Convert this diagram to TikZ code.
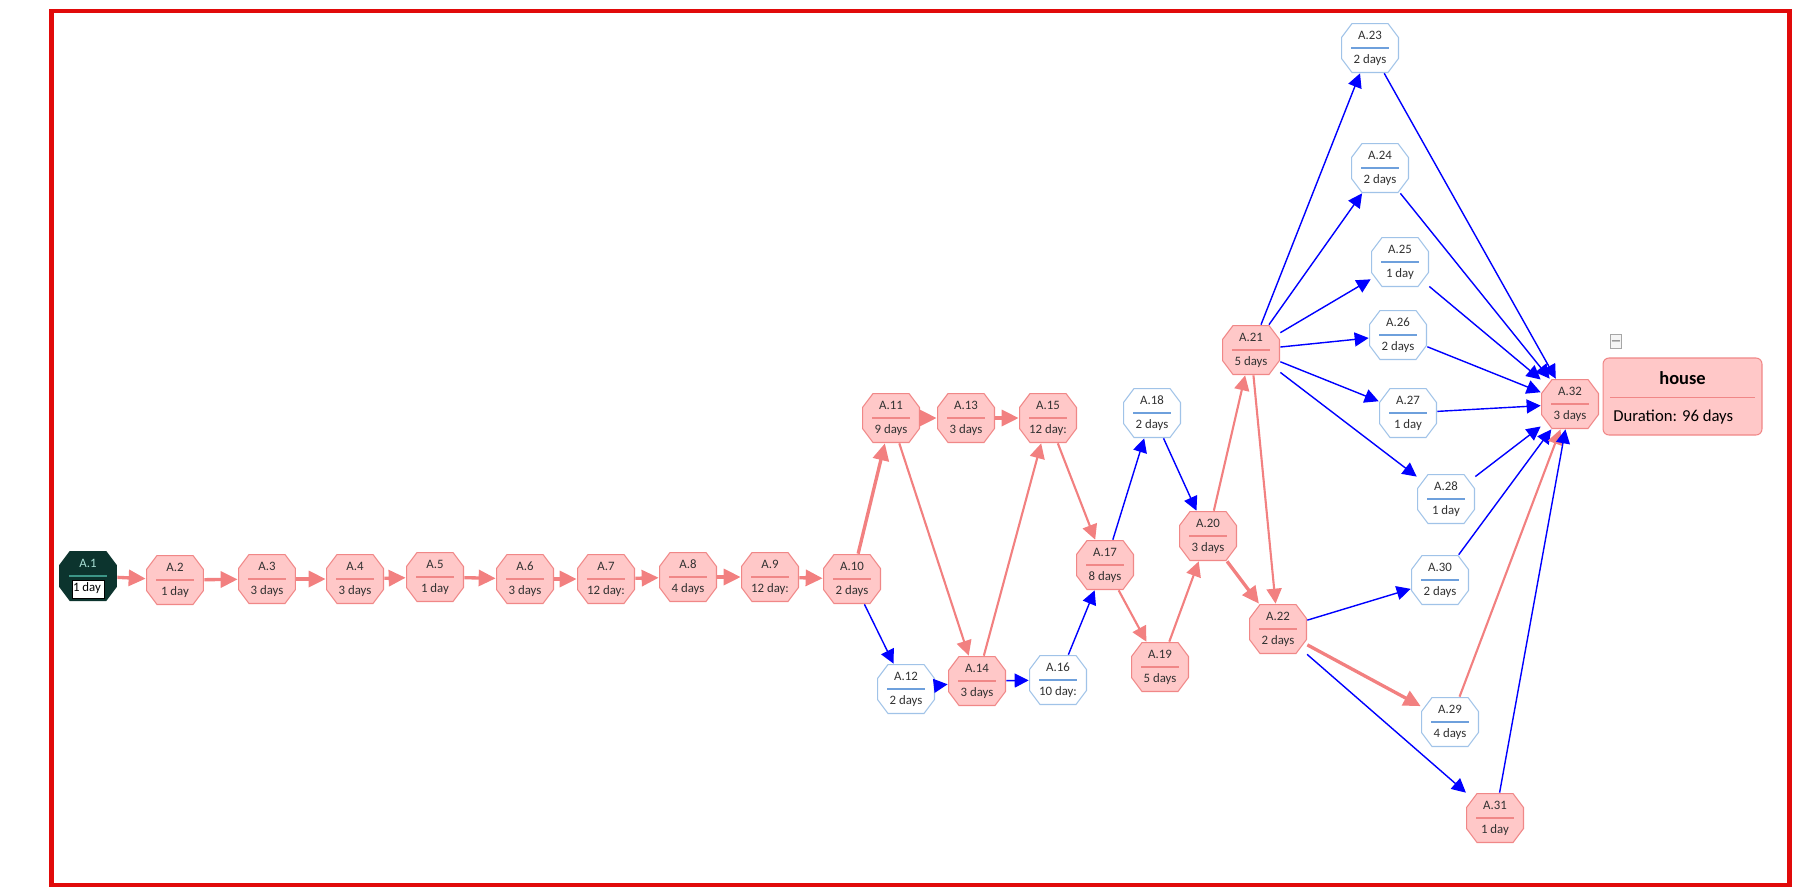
\documentclass[tikz,border=0pt]{standalone}
\usepackage{fontspec}
\setmainfont{Carlito}
\usetikzlibrary{arrows.meta}

\definecolor{critfill}{RGB}{255,200,200}
\definecolor{critline}{RGB}{240,135,135}
\definecolor{critedge}{RGB}{242,128,128}
\definecolor{freeline}{RGB}{160,195,232}
\definecolor{freesep}{RGB}{110,160,220}
\definecolor{startfill}{RGB}{12,52,46}
\definecolor{starttext}{RGB}{170,225,215}
\definecolor{startsep}{RGB}{60,150,135}
\definecolor{frame}{RGB}{225,10,10}
\definecolor{tasktext}{RGB}{50,50,50}

% octagon of a task, drawn inside the node's box
\newcommand{\taskoct}[3]{%
  \path (path picture bounding box.center) coordinate (oc);
  \filldraw[fill=#1, draw=#2, line width=0.6pt]
    ([shift={(-0.36cm,0.49cm)}]oc) -- ([shift={(0.36cm,0.49cm)}]oc) --
    ([shift={(0.57cm,0.21cm)}]oc) -- ([shift={(0.57cm,-0.21cm)}]oc) --
    ([shift={(0.36cm,-0.49cm)}]oc) -- ([shift={(-0.36cm,-0.49cm)}]oc) --
    ([shift={(-0.57cm,-0.21cm)}]oc) -- ([shift={(-0.57cm,0.21cm)}]oc) -- cycle;
  \draw[#3, line width=0.8pt] ([xshift=-0.38cm]oc) -- ([xshift=0.38cm]oc);}

\tikzset{
  task/.style={rectangle, inner sep=0pt, minimum width=1.16cm,
    minimum height=1cm, align=center, text=tasktext,
    font=\fontsize{7.3}{13.6}\selectfont},
  crit/.style={task, path picture={\taskoct{critfill}{critline}{critline}}},
  free/.style={task, path picture={\taskoct{white}{freeline}{freesep}}},
  critlink/.style={-{Triangle[length=0.3cm,width=0.3cm]}, draw=critedge, fill=critedge, line width=1.2pt},
  critmain/.style={critlink, -{Triangle[length=0.34cm,width=0.32cm]}, line width=1.9pt},
  freelink/.style={-{Triangle[length=0.28cm,width=0.28cm]}, draw=blue, fill=blue, line width=0.8pt}
}

\begin{document}
\begin{tikzpicture}[x=0.02cm, y=-0.02cm]
        \useasboundingbox (0,0) rectangle (1811,890);
        \draw[frame, line width=2.4pt] (51.5,11) rectangle (1789.5,885);

        % --- 1. Start task ---
        \node[task, path picture={
            \taskoct{startfill}{startfill}{startsep}
            \draw[black, fill=white, line width=0.5pt]
              ([xshift=-0.32cm, yshift=-0.08cm]oc) rectangle
              ([xshift=0.32cm, yshift=-0.44cm]oc);}]
          (a1) at (88,576) {\textcolor{starttext}{A.1}\\\makebox[0.6cm][l]{\textcolor{black}{1 day}}};

        % --- 2. Chain of critical tasks ---
        \node[crit] (a2) at (175,580) {A.2\\1 day};
        \node[crit] (a3) at (267,579) {A.3\\3 days};
        \node[crit] (a4) at (355,579) {A.4\\3 days};
        \node[crit] (a5) at (435,577) {A.5\\1 day};
        \node[crit] (a6) at (525,579) {A.6\\3 days};
        \node[crit] (a7) at (606,579) {A.7\\12 day:};
        \node[crit] (a8) at (688,577) {A.8\\4 days};
        \node[crit] (a9) at (770,577) {A.9\\12 day:};
        \node[crit] (a10) at (852,579) {A.10\\2 days};

        \foreach \i [evaluate=\i as \j using int(\i+1)] in {1,...,9}
            \draw[critmain] (a\i) -- (a\j);

        % --- 3. Middle section ---
        \node[crit] (a11) at (891,418) {A.11\\9 days};
        \node[crit] (a13) at (966,418) {A.13\\3 days};
        \node[crit] (a15) at (1048,418) {A.15\\12 day:};
        \node[free] (a12) at (906,689) {A.12\\2 days};
        \node[crit] (a14) at (977,681) {A.14\\3 days};
        \node[free] (a16) at (1058,680) {A.16\\10 day:};
        \node[crit] (a17) at (1105,565) {A.17\\8 days};
        \node[free] (a18) at (1152,413) {A.18\\2 days};
        \node[crit] (a19) at (1160,667) {A.19\\5 days};
        \node[crit] (a20) at (1208,536) {A.20\\3 days};
        \node[crit] (a21) at (1251,350) {A.21\\5 days};
        \node[crit] (a22) at (1278,629) {A.22\\2 days};

        \draw[critmain] (a10) -- (a11);
        \draw[freelink] (a10) -- (a12);
        \draw[critmain] (a11) -- (a13);
        \draw[critmain] (a13) -- (a15);
        \draw[critlink] (a11) -- (a14);
        \draw[freelink] (a12) -- (a14);
        \draw[critlink] (a14) -- (a15);
        \draw[freelink] (a14) -- (a16);
        \draw[critlink] (a15) -- (a17);
        \draw[freelink] (a16) -- (a17);
        \draw[freelink] (a17) -- (a18);
        \draw[critlink] (a17) -- (a19);
        \draw[freelink] (a18) -- (a20);
        \draw[critlink] (a19) -- (a20);
        \draw[critlink] (a20) -- (a21);
        \draw[critmain] (a20) -- (a22);
        \draw[critlink] (a21) -- (a22);

        % --- 4. Fan out to the last task ---
        \node[free] (a23) at (1370,48) {A.23\\2 days};
        \node[free] (a24) at (1380,168) {A.24\\2 days};
        \node[free] (a25) at (1400,262) {A.25\\1 day};
        \node[free] (a26) at (1398,335) {A.26\\2 days};
        \node[free] (a27) at (1408,413) {A.27\\1 day};
        \node[free] (a28) at (1446,499) {A.28\\1 day};
        \node[free] (a30) at (1440,580) {A.30\\2 days};
        \node[free] (a29) at (1450,722) {A.29\\4 days};
        \node[crit] (a31) at (1495,818) {A.31\\1 day};
        \node[crit] (a32) at (1570,404) {A.32\\3 days};

        \foreach \k in {23,...,28} {
            \draw[freelink] (a21) -- (a\k);
            \draw[freelink] (a\k) -- (a32);
        }
        \draw[freelink] (a22) -- (a30);
        \draw[freelink] (a30) -- (a32);
        \draw[critmain] (a22) -- (a29);
        \draw[critlink] (a29) -- (a32);
        \draw[freelink] (a22) -- (a31);
        \draw[freelink] (a31) -- (a32);

        % --- 5. Summary box ---
        \node[draw=critline, fill=critfill, rounded corners=0.12cm, line width=0.6pt,
          minimum width=3.18cm, minimum height=1.54cm, inner sep=0pt,
          path picture={\draw[critline, line width=0.8pt]
            ([xshift=0.14cm, yshift=-0.02cm]path picture bounding box.west) --
            ([xshift=-0.14cm, yshift=-0.02cm]path picture bounding box.east);}]
          (house) at (1682.5,396.5) {};
        \node[font=\fontsize{10.5}{12}\selectfont\bfseries, text=black] (house-title) at (1682.5,378) {house};
        \node[font=\fontsize{9.5}{11}\selectfont, text=black, anchor=west, inner sep=0pt]
          (house-dur) at (1613,417) {Duration: 96 days};
        \node[draw=gray!70, fill=gray!8, line width=0.4pt, minimum width=0.22cm,
          minimum height=0.28cm, inner sep=0pt, font=\fontsize{7}{7}\bfseries\selectfont]
          (collapse) at (1616,341) {$-$};
    \end{tikzpicture}
\end{document}
